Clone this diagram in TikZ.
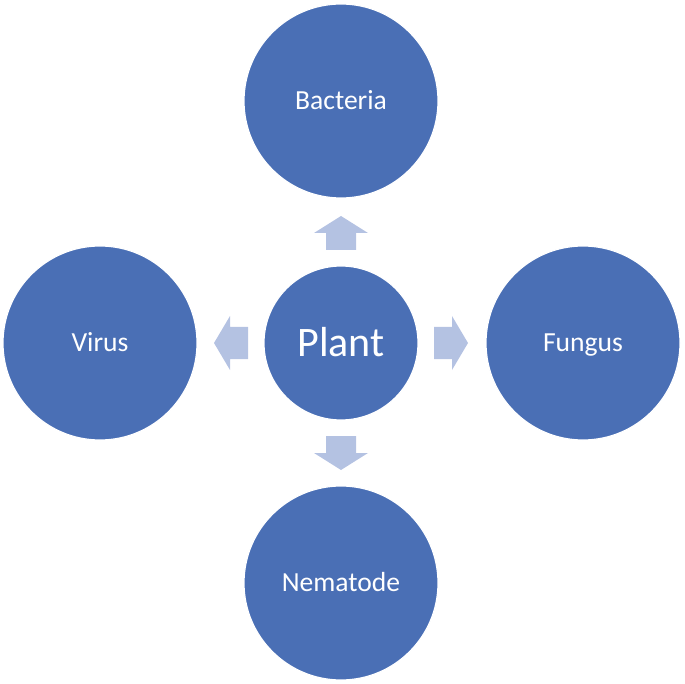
\documentclass[tikz,border=0pt]{standalone}
\usepackage{fontspec}
\setmainfont{Carlito}
\definecolor{circblue}{HTML}{4A6FB5}
\definecolor{arrblue}{HTML}{B4C2E2}
\begin{document}
\begin{tikzpicture}[x=1pt,y=-1pt,
  outer/.style={circle,fill=circblue,draw=white,line width=1.2pt,minimum size=194pt,inner sep=0pt,text=white,font=\fontsize{27.6}{28}\selectfont,text height=17.4pt,text depth=0pt},
  inner/.style={circle,fill=circblue,draw=white,line width=1.2pt,minimum size=154pt,inner sep=0pt,text=white,font=\fontsize{42}{42}\selectfont,text height=26.5pt,text depth=0pt},
  arr/.style={fill=arrblue,draw=none}]
\useasboundingbox (0,0) rectangle (685,684);
\node[inner] (plant) at (341,343) {Plant};
\node[outer] (bact) at (341,101) {Bacteria};
\node[outer] (virus) at (100,343) {Virus};
\node[outer] (fung) at (583,343) {Fungus};
\node[outer] (nema) at (341,583) {Nematode};
% up arrow
\path[arr] (326,250) -- (326,233) -- (314,233) -- (341,216) -- (368,233) -- (356,233) -- (356,250) -- cycle;
% down arrow
\path[arr] (326,436) -- (326,453) -- (314,453) -- (341,470) -- (368,453) -- (356,453) -- (356,436) -- cycle;
% right arrow
\path[arr] (434,327) -- (452,327) -- (452,316) -- (468,343) -- (452,370) -- (452,359) -- (434,359) -- cycle;
% left arrow
\path[arr] (248,327) -- (230,327) -- (230,316) -- (214,343) -- (230,370) -- (230,359) -- (248,359) -- cycle;
\end{tikzpicture}
\end{document}
